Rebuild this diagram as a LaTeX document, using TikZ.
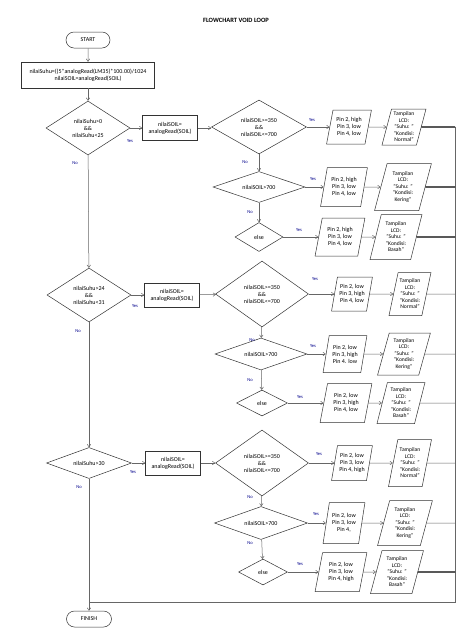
\documentclass[tikz,border=0pt]{standalone}
\usepackage{fontspec}
\setmainfont{Carlito}
\usetikzlibrary{shapes.geometric,shapes.misc,arrows.meta}
\begin{document}
\begin{tikzpicture}[x=1pt,y=-1pt,
  base/.style={draw=black!80, line width=0.5pt, inner sep=0.5pt, align=center, font=\fontsize{6}{7}\selectfont},
  term/.style={base, rounded rectangle, minimum width=45pt, minimum height=16pt},
  proc/.style={base, rectangle},
  dec/.style={base, diamond},
  io/.style={base, trapezium, trapezium left angle=75, trapezium right angle=105, trapezium stretches=true},
  lcd/.style={io, font=\fontsize{5.6}{6.5}\selectfont},
  conn/.style={draw=black!60, line width=0.5pt},
  arr/.style={conn, -{Straight Barb[length=2.5pt,width=3.5pt]}},
  busline/.style={draw=black, line width=1.3pt},
  lbl/.style={font=\fontsize{4.6}{5}\selectfont, text=blue!55!black, inner sep=0pt},
]
\useasboundingbox (0,0) rectangle (471,641);
\fill[white] (0,0) rectangle (471,641);

\node[font=\bfseries\fontsize{6.5}{7}\selectfont] (title) at (236,20) {FLOWCHART VOID LOOP};

% main column
\node[term] (start) at (88,40) {START};
\node[proc, minimum width=133pt, minimum height=26pt] (init) at (88,75) {nilaiSuhu=((5*analogRead(LM35)*100.00)/1024\\nilaiSOIL=analogRead(SOIL)};
\node[dec, minimum width=84pt, minimum height=54pt, aspect=1.55] (d1) at (88,128) {nilaiSuhu>0\\\&\&\\nilaiSuhu<25};
\node[dec, minimum width=84pt, minimum height=54pt, aspect=1.55] (d2) at (89,295) {nilaiSuhu>24\\\&\&\\nilaiSuhu<31};
\node[dec, minimum width=85pt, minimum height=31pt, aspect=2.7] (d3) at (89,463) {nilaiSuhu>30};
\node[term, minimum width=46pt] (finish) at (89,619) {FINISH};

\node[proc, minimum width=55pt, minimum height=25pt] (s1) at (170,128) {nilaiSOIL=\\analogRead(SOIL)};
\node[proc, minimum width=55pt, minimum height=24pt] (s2) at (172,295) {nilaiSOIL=\\analogRead(SOIL)};
\node[proc, minimum width=55pt, minimum height=24pt] (s3) at (173,463) {nilaiSOIL=\\analogRead(SOIL)};

% block 1
\node[dec, minimum width=95pt, minimum height=54pt, aspect=1.76] (d1a) at (259,127) {nilaiSOIL>=350\\\&\&\\nilaiSOIL<=700};
\node[dec, minimum width=92pt, minimum height=31pt, aspect=3] (d1b) at (259,187) {nilaiSOIL>700};
\node[dec, minimum width=48pt, minimum height=29pt, aspect=1.7] (d1c) at (259,237) {else};
\node[io, minimum width=45pt, minimum height=34pt] (p1a) at (349,127) {Pin 2, high\\Pin 3, low\\Pin 4, low};
\node[io, minimum width=47pt, minimum height=39pt] (p1b) at (344,187) {Pin 2, high\\Pin 3, low\\Pin 4, low};
\node[io, minimum width=50pt, minimum height=38pt] (p1c) at (340,237) {Pin 2, high\\Pin 3, low\\Pin 4, low};
\node[lcd, minimum width=44pt, minimum height=36pt] (l1a) at (404,127) {Tampilan\\LCD:\\"Suhu: "\\"Kondisi:\\Normal"};
\node[lcd, minimum width=57pt, minimum height=47pt] (l1b) at (403,187) {Tampilan\\LCD:\\"Suhu: "\\"Kondisi:\\Kering"};
\node[lcd, minimum width=52pt, minimum height=45pt] (l1c) at (396,237) {Tampilan\\LCD:\\"Suhu: "\\"Kondisi:\\Basah"};

% block 2
\node[dec, minimum width=93pt, minimum height=66pt, aspect=1.4] (d2a) at (262,294) {nilaiSOIL>=350\\\&\&\\nilaiSOIL<=700};
\node[dec, minimum width=92pt, minimum height=32pt, aspect=2.9] (d2b) at (261,354) {nilaiSOIL>700};
\node[dec, minimum width=51pt, minimum height=26pt, aspect=1.9] (d2c) at (262,403) {else};
\node[io, minimum width=41pt, minimum height=34pt] (p2a) at (352,294) {Pin 2, low\\Pin 3, high\\Pin 4, low};
\node[io, minimum width=44pt, minimum height=37pt] (p2b) at (345,354) {Pin 2, low\\Pin 3, high\\Pin 4. low};
\node[io, minimum width=52pt, minimum height=39pt] (p2c) at (346,403) {Pin 2, low\\Pin 3, high\\Pin 4, low};
\node[lcd, minimum width=42pt, minimum height=43pt] (l2a) at (410,294) {Tampilan\\LCD:\\"Suhu: "\\"Kondisi:\\Normal"};
\node[lcd, minimum width=53pt, minimum height=42pt] (l2b) at (404,354) {Tampilan\\LCD:\\"Suhu: "\\"Kondisi:\\Kering"};
\node[lcd, minimum width=48pt, minimum height=41pt] (l2c) at (401,403) {Tampilan\\LCD:\\"Suhu: "\\"Kondisi:\\Basah"};

% block 3
\node[dec, minimum width=93pt, minimum height=66pt, aspect=1.4] (d3a) at (262,463) {nilaiSOIL>=350\\\&\&\\nilaiSOIL<=700};
\node[dec, minimum width=93pt, minimum height=33pt, aspect=2.8] (d3b) at (261,523) {nilaiSOIL>700};
\node[dec, minimum width=49pt, minimum height=26pt, aspect=1.9] (d3c) at (263,572) {else};
\node[io, minimum width=41pt, minimum height=35pt] (p3a) at (352,463) {Pin 2, low\\Pin 3, low\\Pin 4, high};
\node[io, minimum width=42pt, minimum height=41pt] (p3b) at (344,523) {Pin 2, low\\Pin 3, low\\Pin 4,};
\node[io, minimum width=52pt, minimum height=39pt] (p3c) at (341,572) {Pin 2, low\\Pin 3, low\\Pin 4, high};
\node[lcd, minimum width=43pt, minimum height=47pt] (l3a) at (410,463) {Tampilan\\LCD:\\"Suhu: "\\"Kondisi:\\Normal"};
\node[lcd, minimum width=55pt, minimum height=45pt] (l3b) at (405,523) {Tampilan\\LCD:\\"Suhu: "\\"Kondisi:\\Kering"};
\node[lcd, minimum width=53pt, minimum height=43pt] (l3c) at (397,572) {Tampilan\\LCD:\\"Suhu: "\\"Kondisi:\\Basah"};

% bus coordinates
\coordinate (bustop) at (455,127);
\coordinate (busbot) at (455,602);
\coordinate (ret) at (89,602);

% main connectors
\draw[arr] (start) -- (init);
\draw[arr] (init) -- (d1);
\draw[arr] (d1) -- (d2);
\draw[arr] (d2) -- (d3);
\draw[conn] (d3) -- (ret);
\draw[conn] (bustop) -- (busbot) -- (ret);
\draw[arr] (ret) -- (finish);

\draw[arr] (d1) -- (s1);
\draw[arr] (d2) -- (s2);
\draw[arr] (d3) -- (s3);
\draw[arr] (s1.east) -- (d1a.west |- s1.east);
\draw[arr] (s2) -- (d2a);
\draw[arr] (s3) -- (d3a);

\foreach \b in {1,2,3}{
  \draw[arr] (d\b a) -- (d\b b);
  \draw[arr] (d\b b) -- (d\b c);
  \foreach \r in {a,b,c}{
    \draw[arr] (d\b\r) -- (p\b\r.west |- d\b\r);
    \draw[arr] (p\b\r) -- (l\b\r);
  }
}

% to bus
\draw[busline] (l1a) -- (l1a -| bustop);
\draw[busline] (l1b) -- (l1b -| bustop);
\draw[busline] (l1c) -- (l1c -| bustop);
\draw[conn] (l2a) -- (l2a -| bustop);
\draw[conn] (l2b) -- (l2b -| bustop);
\draw[conn] (l2c) -- (l2c -| bustop);
\draw[conn] (l3a) -- (l3a -| bustop);
\draw[conn] (l3b) -- (l3b -| bustop);
\draw[busline] (l3c) -- (l3c -| bustop);

% labels
\node[lbl] (y1) at (130,141) {Yes};
\node[lbl] (n1) at (75,163) {No};
\node[lbl] (y2) at (135,306) {Yes};
\node[lbl] (n2) at (78,331) {No};
\node[lbl] (y3) at (133,472) {Yes};
\node[lbl] (n3) at (79,487) {No};

\node[lbl] (y1a) at (312,120) {Yes};
\node[lbl] (n1a) at (245,162) {No};
\node[lbl] (y1b) at (313,179) {Yes};
\node[lbl] (n1b) at (250,212) {No};
\node[lbl] (y1c) at (299,230) {Yes};

\node[lbl] (y2a) at (315,279) {Yes};
\node[lbl] (n2a) at (252,340) {No};
\node[lbl] (y2b) at (313,346) {Yes};
\node[lbl] (n2b) at (250,380) {No};
\node[lbl] (y2c) at (300,397) {Yes};

\node[lbl] (y3a) at (319,454) {Yes};
\node[lbl] (n3a) at (250,497) {No};
\node[lbl] (y3b) at (316,514) {Yes};
\node[lbl] (n3b) at (250,543) {No};
\node[lbl] (y3c) at (300,564) {Yes};
\end{tikzpicture}
\end{document}
